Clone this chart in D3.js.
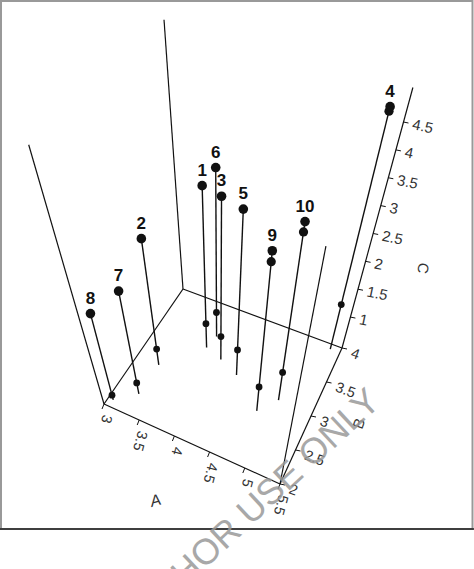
<!DOCTYPE html>
<html><head><meta charset="utf-8">
<script src="https://cdn.jsdelivr.net/npm/d3@7"></script>
<style>body{margin:0;background:#fff}svg{display:block;font-family:"Liberation Sans",Arial,sans-serif}</style>
</head><body>
<script>
// data
var labels = ['1','2','3','4','5','6','7','8','9','10'];
var aVals = [3.76, 3.32, 4.02, 5.35, 4.32, 3.80, 3.31, 3.07, 4.80, 5.00];
var bVals = [3.33, 2.84, 3.25, 3.93, 3.13, 3.53, 2.34, 2.11, 2.78, 3.03];
var cTop = [3.25, 2.65, 3.27, 4.77, 3.32, 3.37, 2.26, 1.99, 3.23, 3.57];
var cTop2 = [null, null, null, 4.69, null, null, null, null, 3.04, 3.39];
var cLow = [0.86, 0.72, 0.84, 1.24, 0.88, 0.86, 0.64, 0.53, 0.86, 0.93];
var aTicks = [3, 3.5, 4, 4.5, 5, 5.5];
var bTicks = [2, 2.5, 3, 3.5, 4];
var cTicks = [1, 1.5, 2, 2.5, 3, 3.5, 4, 4.5];

var W = 474, H = 569;
var svg = d3.select('body').append('svg').attr('width', W).attr('height', H);

// floor corners on screen (box layout)
var L = [104, 404], F = [280, 484], R = [342, 348], K = [183, 289];
var V = [219, 800]; // vanishing point of the vertical edges
var u = d3.scaleLinear().domain([3, 5.5]).range([0, 1]);
var v = d3.scaleLinear().domain([2, 4]).range([0, 1]);
var h = d3.scaleLinear().domain([0.445, 5.12]).range([0, 270]);

function proj(a, b, c) {
  var s = u(a), t = v(b);
  var x = L[0] + s*(F[0]-L[0]) + t*(K[0]-L[0]) + s*t*(L[0]-F[0]-K[0]+R[0]);
  var y = L[1] + s*(F[1]-L[1]) + t*(K[1]-L[1]) + s*t*(L[1]-F[1]-K[1]+R[1]);
  var dx = x - V[0], dy = y - V[1], n = Math.sqrt(dx*dx + dy*dy);
  var k = h(c);
  return [x + dx/n*k, y + dy/n*k];
}
function line(p, q, w, col) {
  svg.append('line').attr('x1', p[0]).attr('y1', p[1]).attr('x2', q[0]).attr('y2', q[1])
    .attr('stroke', col || '#111').attr('stroke-width', w || 1.2);
}

// frame
svg.append('rect').attr('x', 1).attr('y', 1).attr('width', W - 2.5).attr('height', 528)
  .attr('fill', 'none').attr('stroke', '#999').attr('stroke-width', 2);
line([0, 529], [W, 529], 1.5, '#222');

var c0 = 0.445, c1 = 5.12;
// floor
line(proj(3,2,c0), proj(5.5,2,c0));
line(proj(5.5,2,c0), proj(5.5,4,c0));
line(proj(5.5,4,c0), proj(3,4,c0));
line(proj(3,4,c0), proj(3,2,c0));
// vertical edges
line(proj(3,2,c0), proj(3,2,c1));
line(proj(3,4,c0), proj(3,4,c1));
line(proj(5.5,4,c0), proj(5.5,4,c1));
line(proj(5.5,2,c0), proj(5.5,2,4.64));

var tickFont = 14.5;
// A axis
aTicks.forEach(function(a) {
  var p = proj(a, 2, c0);
  line(p, [p[0] - 2, p[1] + 5], 1);
  svg.append('text').attr('transform', 'translate(' + (p[0] - 1) + ',' + (p[1] + 10) + ') rotate(105)')
    .attr('font-size', tickFont).attr('fill', '#333').text(String(a));
});
svg.append('text').attr('x', 150).attr('y', 506).attr('font-size', 16).attr('font-style', 'italic')
  .attr('fill', '#333').attr('transform', 'rotate(-15,155,500)').text('A');
// B axis
bTicks.forEach(function(b) {
  var p = proj(5.5, b, c0);
  line(p, [p[0] + 5, p[1] + 1], 1);
  svg.append('text').attr('transform', 'translate(' + (p[0] + 8) + ',' + (p[1] + 9) + ') rotate(20)')
    .attr('font-size', tickFont).attr('fill', '#333').text(String(b));
});
svg.append('text').attr('transform', 'translate(362,430) rotate(-70)').attr('font-size', 15)
  .attr('fill', '#333').text('B');
// C axis
cTicks.forEach(function(c) {
  var p = proj(5.5, 4, c);
  line(p, [p[0] + 5, p[1] + 1], 1);
  svg.append('text').attr('transform', 'translate(' + (p[0] + 8) + ',' + (p[1] + 7) + ') rotate(12)')
    .attr('font-size', tickFont + 0.5).attr('fill', '#333').text(String(c));
});
svg.append('text').attr('transform', 'translate(419,262) rotate(100)').attr('font-size', 15)
  .attr('fill', '#333').text('C');

// stems and points
labels.forEach(function(lab, i) {
  var base = proj(aVals[i], bVals[i], c0);
  var top = proj(aVals[i], bVals[i], cTop[i]);
  line(base, top, 1.4);
  var lo = proj(aVals[i], bVals[i], cLow[i]);
  svg.append('circle').attr('cx', lo[0]).attr('cy', lo[1]).attr('r', 3.4).attr('fill', '#111');
  if (cTop2[i] != null) {
    var t2 = proj(aVals[i], bVals[i], cTop2[i]);
    svg.append('circle').attr('cx', t2[0]).attr('cy', t2[1]).attr('r', 4.6).attr('fill', '#111');
  }
  svg.append('circle').attr('cx', top[0]).attr('cy', top[1]).attr('r', 4.8).attr('fill', '#111');
  svg.append('text').attr('x', top[0]).attr('y', top[1] - 10).attr('text-anchor', 'middle')
    .attr('font-size', 17).attr('font-weight', 'bold').attr('fill', '#111').text(lab);
});

// watermark
svg.append('text').attr('transform', 'translate(382,404) rotate(-43)').attr('text-anchor', 'end')
  .attr('font-size', 36).attr('fill', '#999').attr('opacity', 0.85).text('FOR AUTHOR USE ONLY');
</script>
</body></html>
